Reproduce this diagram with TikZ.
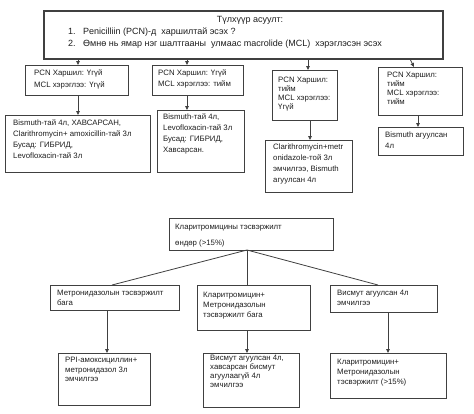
\documentclass[tikz,border=0pt]{standalone}
\usepackage{fontspec}
\setmainfont{Liberation Sans}
\usetikzlibrary{arrows.meta}
\definecolor{linec}{HTML}{404040}
\definecolor{textc}{HTML}{1E1E1E}
\newcommand\bx[5]{\node[box, minimum width={(#4)-(#2)}, minimum height={(#5)-(#3)}] (#1) at (#2,#3) {};}
\begin{document}
\begin{tikzpicture}[x=1pt,y=-1pt,
  box/.style={draw=linec, line width=0.8pt, rectangle, inner sep=0, outer sep=0, anchor=north west, fill=white},
  topbox/.style={box, line width=1.3pt},
  txt/.style={inner sep=0, align=left, anchor=north west, text=textc},
  fs/.style={font=\fontsize{7.8}{#1}\selectfont},
  arr/.style={draw=linec, line width=0.8pt, -{Triangle[length=4pt,width=3.6pt]}},
  ln/.style={draw=linec, line width=0.8pt}]
\useasboundingbox (0,0) rectangle (474,413);
% top box
\node[topbox, minimum width=399, minimum height=48] (T) at (44,11) {};
\node[inner sep=0, anchor=base, text=textc, font=\fontsize{9}{12}\selectfont] (Tt) at (250,22) {Түлхүүр асуулт:};
\node[txt, font=\fontsize{9}{12.5}\selectfont] (Tl) at (68,27.5) {\makebox[15pt][l]{1.}Penicilliin (PCN)-д\ \ харшилтай эсэх ?\\ \makebox[15pt][l]{2.}Өмнө нь ямар нэг шалтгааны\ \ улмаас macrolide (MCL)\ \ хэрэглэсэн эсэх};
% row 1
\bx{A}{25}{65}{128}{95}
\bx{B}{152}{65}{243}{95}
\bx{C}{272}{70}{337}{120}
\bx{D}{378}{67}{462}{115}
\node[txt, fs=12] (At) at (34,70) {PCN Харшил: Үгүй\\MCL хэрэглээ: Үгүй};
\node[txt, fs=11] (Bt) at (158,70) {PCN Харшил: Үгүй\\MCL хэрэглээ: тийм};
\node[txt, fs=9] (Ct) at (278,77) {PCN Харшил:\\тийм\\MCL хэрэглээ:\\Үгүй};
\node[txt, fs=8.8] (Dt) at (387,72) {PCN Харшил:\\тийм\\MCL хэрэглээ:\\тийм};
% row 2
\bx{A2}{5}{115}{150}{172}
\bx{B2}{157}{110}{244}{172}
\bx{C2}{265}{140}{352}{192}
\bx{D2}{378}{127}{463}{155}
\node[txt, fs=10.7] (A2t) at (13,120) {Bismuth-тай 4л, ХАВСАРСАН,\\Clarithromycin+ amoxicillin-тай 3л\\Бусад: ГИБРИД,\\Levofloxacin-тай 3л};
\node[txt, fs=10.8] (B2t) at (163,114) {Bismuth-тай 4л,\\Levofloxacin-тай 3л\\Бусад: ГИБРИД,\\Хавсарсан.};
\node[txt, fs=11] (C2t) at (273,144) {Clarithromycin+metr\\onidazole-той 3л\\эмчилгээ, Bismuth\\агуулсан 4л};
\node[txt, fs=11] (D2t) at (385,132) {Bismuth агуулсан\\4л};
% arrows upper
\draw[arr] ([xshift=-165.5pt]T.south) -- ([xshift=1.5pt]A.north);
\draw[arr] ([xshift=-56.5pt]T.south) -- ([xshift=-10.5pt]B.north);
\draw[arr] ([xshift=64.5pt]T.south) -- ([xshift=3.5pt]C.north);
\draw[arr] ([xshift=166.5pt]T.south) -- ([xshift=-6pt]D.north);
\draw[arr] ([xshift=1.5pt]A.south) -- ([xshift=0.5pt]A2.north);
\draw[arr] ([xshift=-10.5pt]B.south) -- ([xshift=-13.5pt]B2.north);
\draw[arr] ([xshift=5.5pt]C.south) -- ([xshift=1.5pt]C2.north);
\draw[arr] ([xshift=-2pt]D.south) -- ([xshift=-2.5pt]D2.north);
% lower section
\bx{E}{169}{218}{333}{250}
\node[txt, fs=16] (Et) at (175,224) {Кларитромицины тэсвэржилт\\өндөр (>15\%)};
\bx{F}{50}{285}{179}{310}
\bx{G}{197}{285}{310}{330}
\bx{H}{330}{285}{437}{312}
\node[txt, fs=10] (Ft) at (57,290) {Метронидазолын тэсвэржилт\\бага};
\node[txt, fs=10] (Gt) at (203,292) {Кларитромицин+\\Метронидазолын\\тэсвэржилт бага};
\node[txt, fs=9.5] (Ht) at (337,290) {Висмут агуулсан 4л\\эмчилгээ};
\draw[ln] ([xshift=-4pt]E.south) -- ([xshift=-2.5pt]F.north);
\draw[ln] ([xshift=-4pt]E.south) -- ([xshift=-6.5pt]G.north);
\draw[ln] ([xshift=-4pt]E.south) -- ([xshift=-5.5pt]H.north);
\bx{I}{58}{353}{150}{405}
\bx{J}{203}{353}{299}{407}
\bx{K}{330}{353}{446}{398}
\node[txt, fs=9.7] (It) at (65,357) {PPI-амоксициллин+\\метронидазол 3л\\эмчилгээ};
\node[txt, fs=9] (Jt) at (210,355) {Висмут агуулсан 4л,\\хавсарсан бисмут\\агуулаагүй 4л\\эмчилгээ};
\node[txt, fs=10] (Kt) at (337,359) {Кларитромицин+\\Метронидазолын\\тэсвэржилт (>15\%)};
\draw[arr] ([xshift=-7.5pt]F.south) -- ([xshift=3pt]I.north);
\draw[arr] ([xshift=-6.5pt]G.south) -- ([xshift=-4pt]J.north);
\draw[arr] ([xshift=4.5pt]H.south) -- (K.north);
\end{tikzpicture}
\end{document}
